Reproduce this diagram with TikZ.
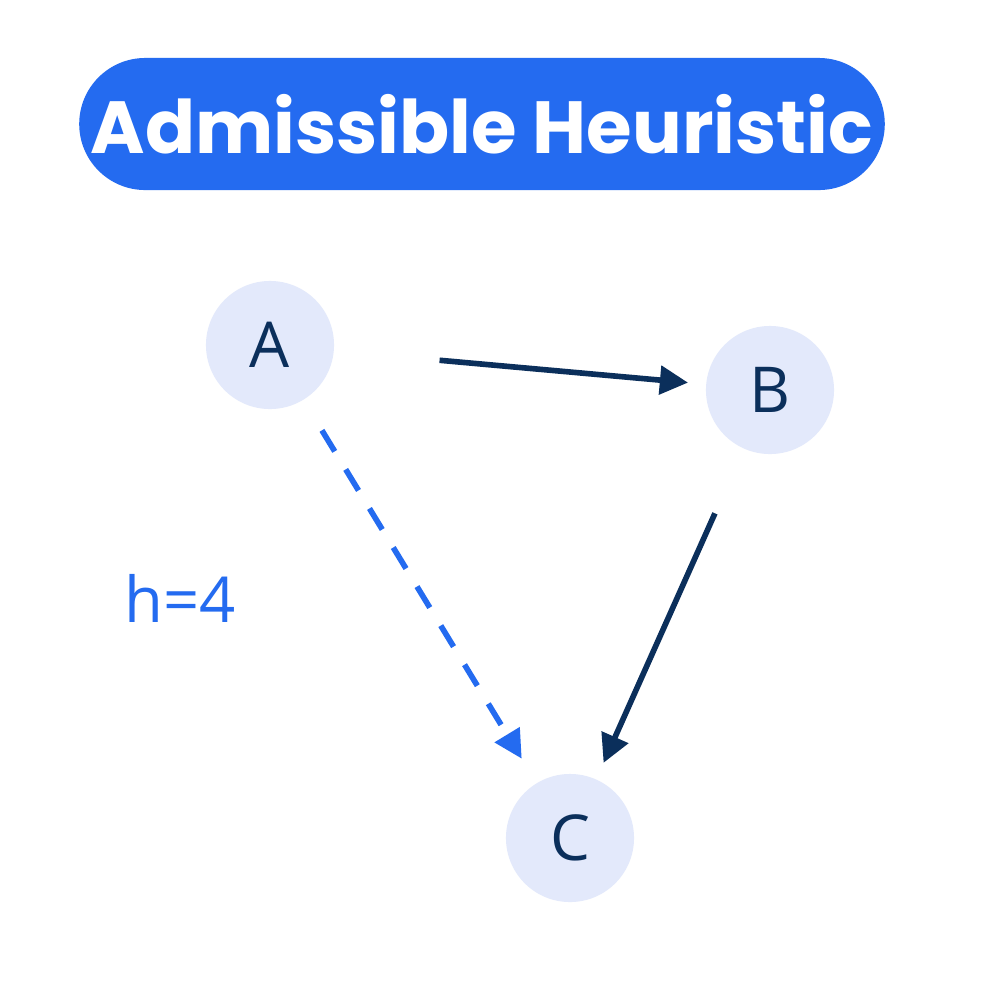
\documentclass[tikz,border=0pt]{standalone}
\usepackage{fontspec}
\setmainfont{Open Sans}
\newfontfamily\titlefont{Poppins}
\usetikzlibrary{arrows.meta}
\definecolor{pillblue}{HTML}{246BF0}
\definecolor{nodefill}{HTML}{E3E9FB}
\definecolor{navy}{HTML}{0B2F5B}
\tikzset{
  state/.style={circle, fill=nodefill, minimum size=1.28cm, inner sep=0pt, text=navy, font=\fontsize{18}{20}\selectfont},
  edge/.style={line width=1.6pt, draw=navy, -{Triangle[length=8pt,width=8pt]}},
  guess/.style={line width=1.6pt, draw=pillblue, dash pattern=on 7pt off 6pt, -{Triangle[length=8pt,width=8pt]}}
}
\begin{document}
\begin{tikzpicture}[x=0.01cm, y=-0.01cm]
    \useasboundingbox[fill=white] (0,0) rectangle (993,993);

    % --- title ---
    \node[fill=pillblue, rounded corners=0.66cm, minimum width=7.05cm, minimum height=1.32cm,
          text=white, font=\titlefont\bfseries\fontsize{21}{24}\selectfont] (title) at (482,124) {Admissible Heuristic};

    % --- states ---
    \node[state] (A) at (270,345) {A};
    \node[state] (B) at (770,390) {B};
    \node[state] (C) at (570,838) {C};

    % --- moves ---
    \draw[edge, shorten >=5pt, shorten <=30pt] (A) -- (B);
    \draw[edge, shorten >=5pt, shorten <=20pt] (B) -- (C);
    \draw[guess, shorten >=8pt, shorten <=10pt] (A) -- (C);

    \node[text=pillblue, font=\fontsize{18}{20}\selectfont] (h) at (180,598) {h=4};

\end{tikzpicture}
\end{document}
